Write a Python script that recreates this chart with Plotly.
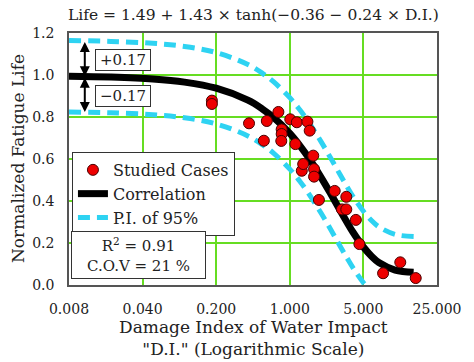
import math
import plotly.graph_objects as go

# ---- data ----
di_points = [0.182, 0.182, 0.41, 0.567, 0.605, 0.779, 0.837, 0.837, 0.83, 1.01, 1.13, 1.166,
             1.30, 1.34, 1.47, 1.545, 1.67, 1.70, 1.70, 1.89, 2.67, 3.13, 3.44, 3.44, 4.24,
             4.58, 7.69, 11.2, 15.7]
life_points = [0.878, 0.862, 0.770, 0.687, 0.781, 0.824, 0.741, 0.719, 0.686, 0.789, 0.671, 0.775,
               0.544, 0.576, 0.778, 0.735, 0.616, 0.552, 0.516, 0.405, 0.448, 0.360, 0.420, 0.360, 0.310,
               0.195, 0.056, 0.108, 0.033]

di_fit = [0.008, 0.02, 0.05, 0.1, 0.2, 0.4, 0.55, 0.7, 1.0, 1.25, 1.5, 2.0, 2.5, 3.0, 3.5, 4.0,
          5.0, 6.0, 7.0, 10.0, 15.0]
life_fit = [0.994, 0.990, 0.981, 0.966, 0.937, 0.880, 0.838, 0.798, 0.722, 0.663, 0.608, 0.509,
            0.426, 0.356, 0.298, 0.250, 0.181, 0.136, 0.107, 0.071, 0.061]
life_upper = [1.164, 1.160, 1.151, 1.136, 1.107, 1.050, 1.008, 0.968, 0.892, 0.833, 0.778, 0.679,
              0.596, 0.526, 0.468, 0.420, 0.351, 0.306, 0.277, 0.241, 0.231]
di_low = [0.008, 0.02, 0.05, 0.1, 0.2, 0.4, 0.55, 0.7, 1.0, 1.25, 1.5, 2.0, 2.5, 3.0, 3.5, 4.0,
          5.0, 5.5]
life_lower = [0.824, 0.820, 0.811, 0.796, 0.767, 0.710, 0.668, 0.628, 0.552, 0.493, 0.438, 0.339,
              0.256, 0.186, 0.128, 0.080, 0.011, -0.014]

x_tickvals = [0.008, 0.04, 0.2, 1.0, 5.0, 25.0]
x_ticktext = ["0.008", "0.040", "0.200", "1.000", "5.000", "25.000"]
y_tickvals = [0.0, 0.2, 0.4, 0.6, 0.8, 1.0, 1.2]

FONT = "DejaVu Serif"
GRID = "#66DD22"
CYAN = "#2ED3F2"

fig = go.Figure()
fig.add_trace(go.Scatter(x=di_fit, y=life_fit, mode="lines", name="Correlation", legendrank=2,
                         line=dict(color="black", width=7, shape="spline")))
fig.add_trace(go.Scatter(x=di_fit, y=life_upper, mode="lines", name="P.I. of 95%", legendrank=3,
                         line=dict(color=CYAN, width=5, dash="12px,7px", shape="spline")))
fig.add_trace(go.Scatter(x=di_low, y=life_lower, mode="lines", name="P.I. of 95%",
                         showlegend=False,
                         line=dict(color=CYAN, width=5, dash="12px,7px", shape="spline")))
fig.add_trace(go.Scatter(x=di_points, y=life_points, mode="markers", name="Studied Cases",
                         legendrank=1,
                         marker=dict(color="#EE0000", size=11,
                                     line=dict(color="#4a0000", width=1))))

fig.update_layout(
    width=474, height=362,
    margin=dict(l=69, r=33, t=33, b=77),
    paper_bgcolor="white", plot_bgcolor="white",
    font=dict(family=FONT, color="#222", size=14),
    showlegend=True,
    legend=dict(x=0.008, y=0.528, xanchor="left", yanchor="top",
                bgcolor="white", bordercolor="#333", borderwidth=1,
                font=dict(family=FONT, size=16, color="#222"),
                traceorder="normal", tracegroupgap=0),
)
fig.update_xaxes(type="log", range=[math.log10(0.008), math.log10(25)],
                 tickvals=x_tickvals, ticktext=x_ticktext,
                 showgrid=True, gridcolor=GRID, gridwidth=1.5,
                 showline=True, linecolor="#555", linewidth=1.5, mirror=True,
                 ticks="", ticklabelstandoff=10, tickfont=dict(size=14, family=FONT))
fig.update_yaxes(range=[0, 1.2], tickvals=y_tickvals, tickformat=".1f",
                 showgrid=True, gridcolor=GRID, gridwidth=1.5,
                 showline=True, linecolor="#555", linewidth=1.5, mirror=True,
                 ticks="", ticklabelstandoff=10, tickfont=dict(size=14, family=FONT),
                 zeroline=False)

ann = []
ann.append(dict(text="Life = 1.49 + 1.43 × tanh(−0.36 − 0.24 × D.I.)", xref="paper", yref="paper",
                x=0.5, y=1.0, yshift=18, xanchor="center", yanchor="middle", showarrow=False,
                font=dict(family=FONT, size=15.5, color="#222")))
ann.append(dict(text="Damage Index of Water Impact<br>\"D.I.\" (Logarithmic Scale)",
                xref="paper", yref="paper", x=0.5, y=0, yshift=-30, xanchor="center",
                yanchor="top", showarrow=False,
                font=dict(family=FONT, size=17, color="#222")))
ann.append(dict(text="Normalized Fatigue Life", xref="paper", yref="paper", x=0, xshift=-51,
                y=0.5, textangle=-90, xanchor="center", yanchor="middle", showarrow=False,
                font=dict(family=FONT, size=17, color="#222")))
ann.append(dict(text="R<sup>2</sup> = 0.91<br>C.O.V = 21 %", xref="paper", yref="paper",
                x=0.19, y=0.119, xanchor="center", yanchor="middle", showarrow=False,
                bgcolor="white", bordercolor="#333", borderwidth=1, borderpad=3, width=127,
                font=dict(family=FONT, size=15, color="#222")))
ann.append(dict(text="+0.17", xref="paper", yref="paper", x=0.148, y=0.893,
                xanchor="center", yanchor="middle", showarrow=False,
                bgcolor="white", bordercolor="#333", borderwidth=1, borderpad=1, width=52,
                font=dict(family=FONT, size=15, color="#222")))
ann.append(dict(text="−0.17", xref="paper", yref="paper", x=0.148, y=0.75,
                xanchor="center", yanchor="middle", showarrow=False,
                bgcolor="white", bordercolor="#333", borderwidth=1, borderpad=1, width=52,
                font=dict(family=FONT, size=15, color="#222")))
xa = math.log10(0.0113)
ann.append(dict(x=xa, y=life_fit[0], ax=xa, ay=life_upper[0], xref="x", yref="y", axref="x",
                ayref="y", showarrow=True, arrowhead=2, arrowside="end+start", arrowsize=1,
                arrowwidth=2, arrowcolor="black", text=""))
ann.append(dict(x=xa, y=life_lower[0], ax=xa, ay=life_fit[0], xref="x", yref="y", axref="x",
                ayref="y", showarrow=True, arrowhead=2, arrowside="end+start", arrowsize=1,
                arrowwidth=2, arrowcolor="black", text=""))
fig.update_layout(annotations=ann)

fig.write_html("out.html", config={"displayModeBar": False},
               post_script="document.body.style.margin='0';")
